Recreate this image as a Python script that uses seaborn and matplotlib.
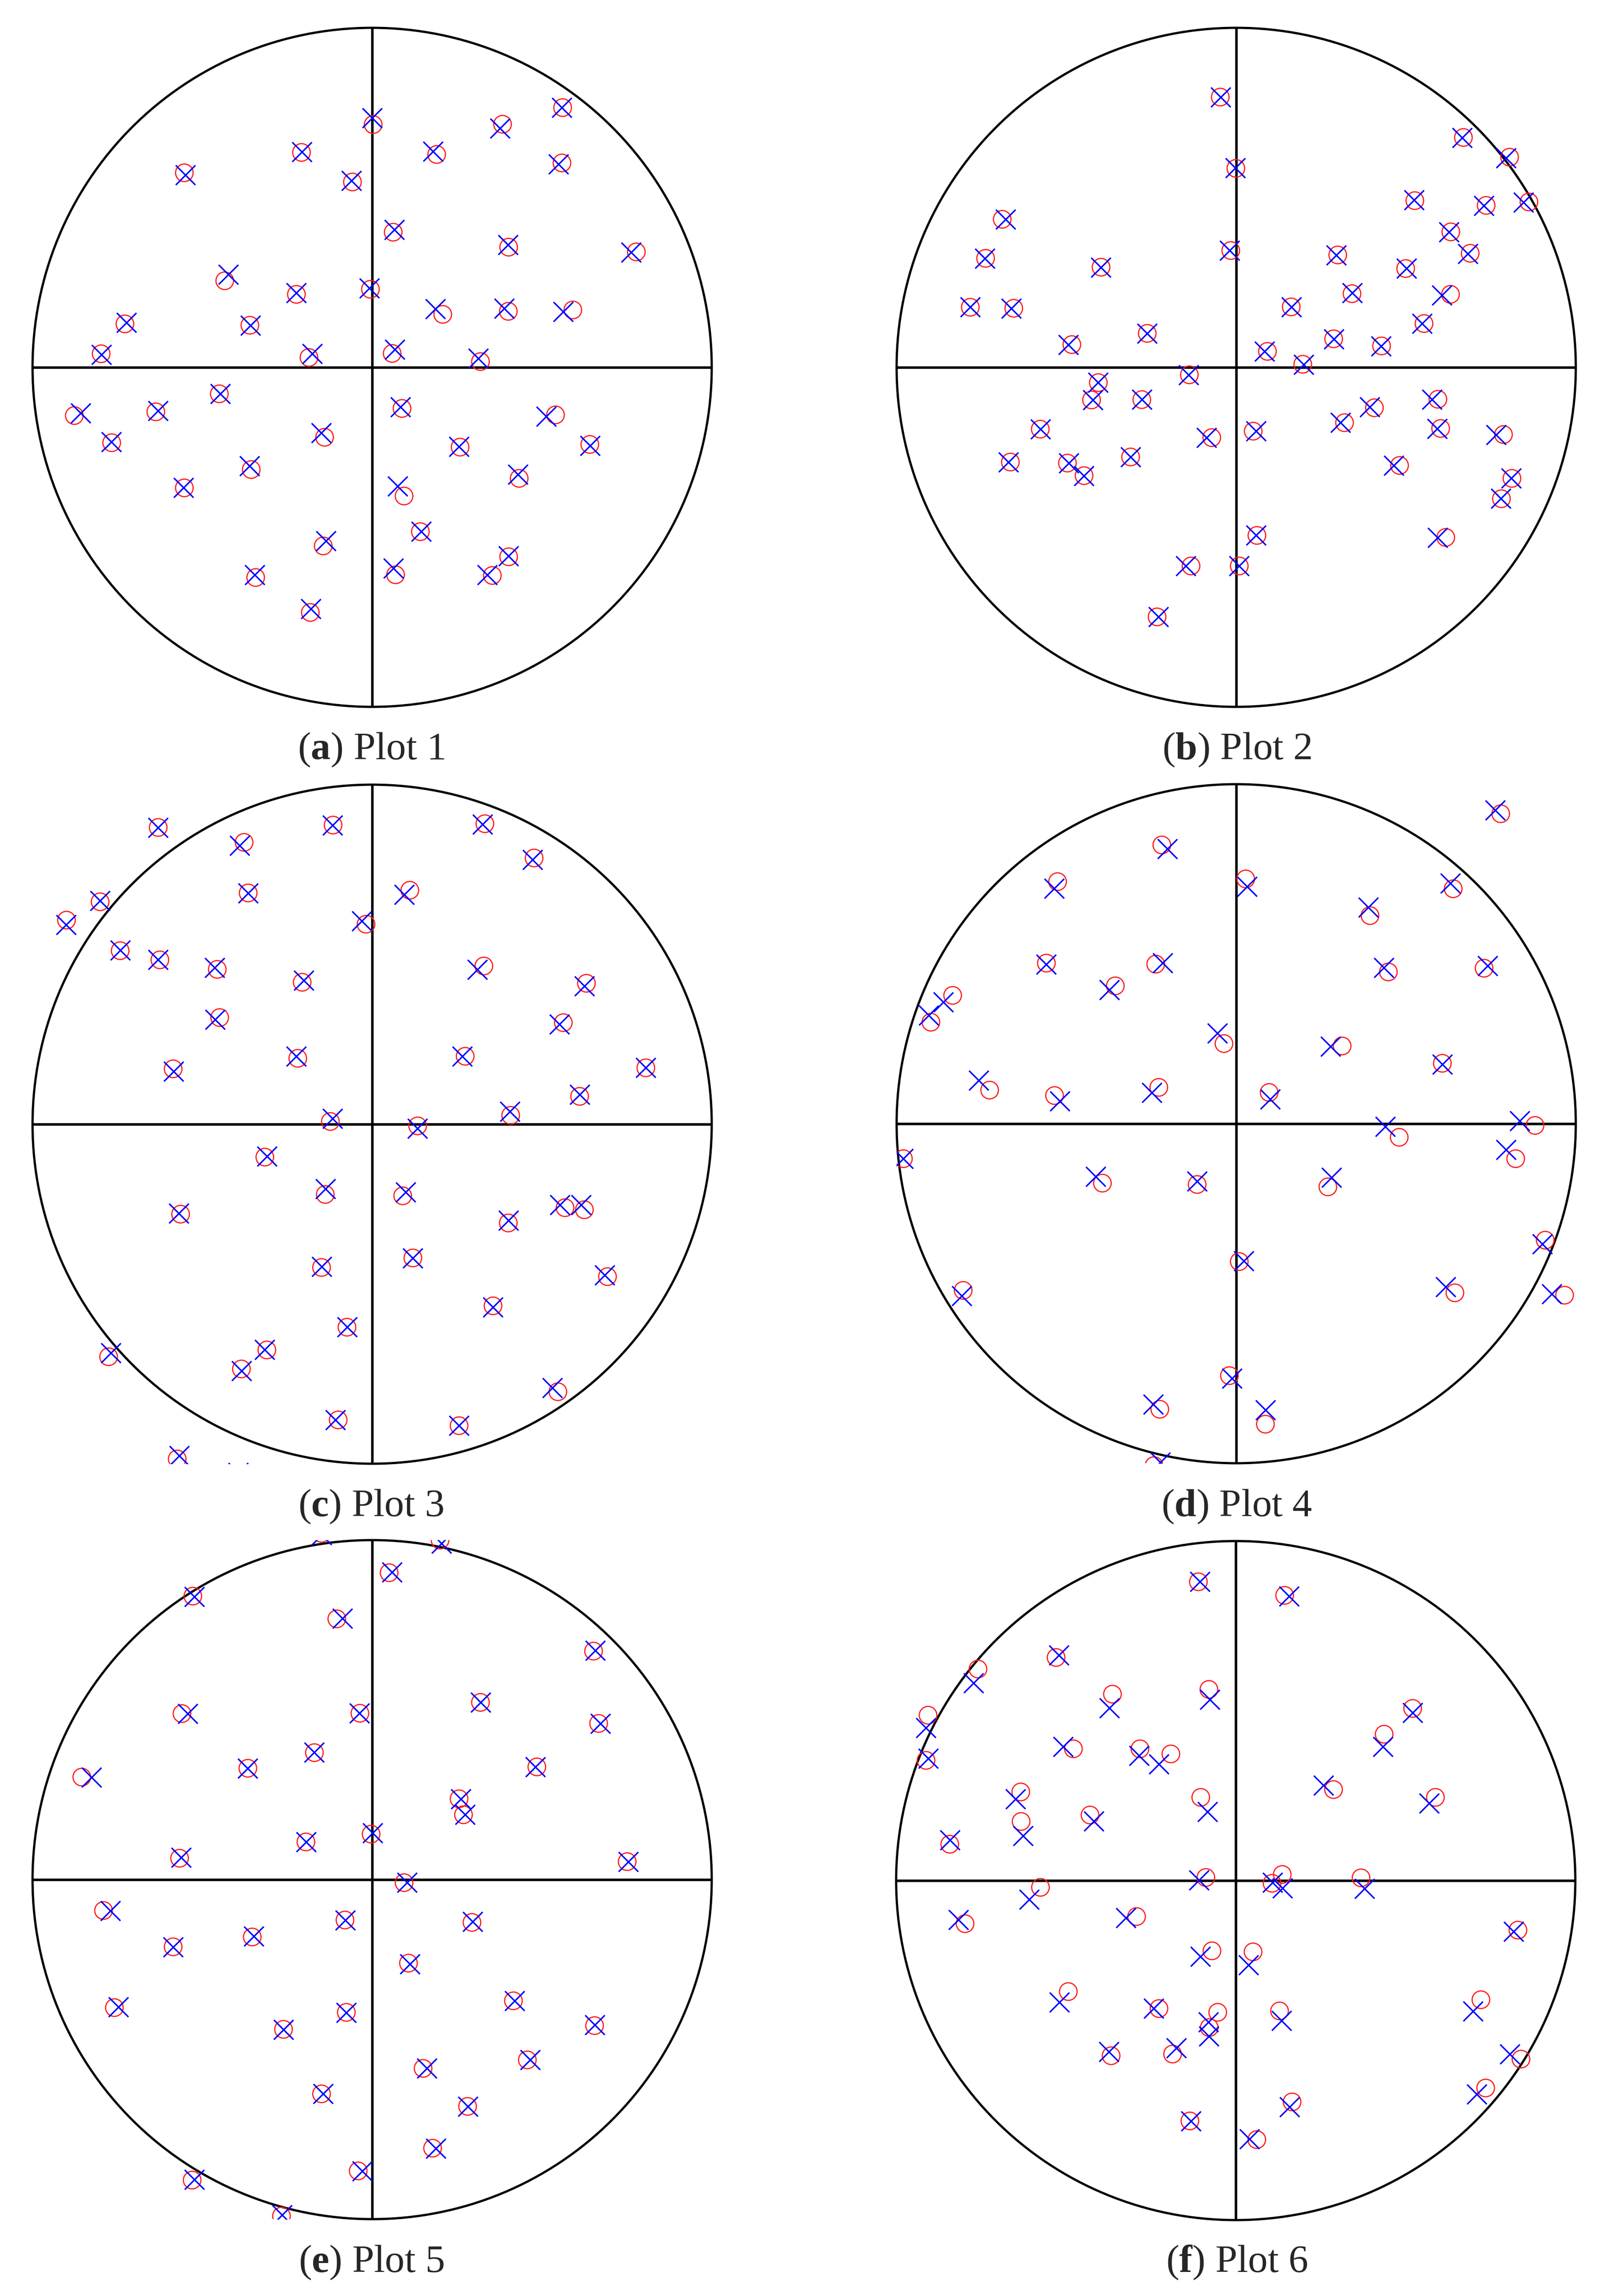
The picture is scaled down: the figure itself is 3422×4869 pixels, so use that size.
import numpy as np
import pandas as pd
import matplotlib
matplotlib.use("Agg")
import matplotlib.pyplot as plt
import seaborn as sns
from matplotlib.patches import Circle

# ---------------- data (unit-circle coordinates) ----------------
p1_circle_x = [0.003, 0.384, 0.561, -0.208, 0.190, 0.559, -0.553, -0.058, 0.062, 0.402, 0.778, -0.434, -0.223, -0.005, 0.208, 0.401, 0.591, -0.728, -0.360, -0.798, -0.186, 0.059, 0.319, -0.450, -0.877, -0.637, 0.088, 0.540, -0.767, -0.140, 0.259, 0.641, -0.356, 0.433, -0.553, 0.094, 0.142, -0.144, 0.402, -0.343, 0.069, 0.354, -0.182]
p1_circle_y = [0.715, 0.716, 0.765, 0.633, 0.627, 0.602, 0.573, 0.546, 0.398, 0.354, 0.340, 0.255, 0.215, 0.230, 0.156, 0.165, 0.169, 0.128, 0.124, 0.040, 0.029, 0.041, 0.017, -0.078, -0.142, -0.131, -0.121, -0.140, -0.222, -0.206, -0.235, -0.227, -0.301, -0.327, -0.355, -0.379, -0.484, -0.526, -0.558, -0.619, -0.611, -0.613, -0.722]
p1_cross_x = [0.000, 0.376, 0.559, -0.207, 0.179, 0.549, -0.550, -0.061, 0.065, 0.400, 0.763, -0.423, -0.223, -0.009, 0.186, 0.389, 0.563, -0.723, -0.358, -0.797, -0.177, 0.067, 0.313, -0.447, -0.858, -0.631, 0.084, 0.513, -0.768, -0.150, 0.256, 0.642, -0.361, 0.429, -0.555, 0.075, 0.144, -0.136, 0.402, -0.346, 0.062, 0.339, -0.181]
p1_cross_y = [0.735, 0.704, 0.765, 0.635, 0.636, 0.598, 0.567, 0.550, 0.406, 0.361, 0.339, 0.273, 0.219, 0.234, 0.172, 0.173, 0.164, 0.132, 0.124, 0.037, 0.040, 0.053, 0.026, -0.078, -0.135, -0.128, -0.117, -0.145, -0.220, -0.193, -0.234, -0.231, -0.290, -0.315, -0.354, -0.350, -0.484, -0.511, -0.555, -0.611, -0.591, -0.611, -0.711]

p2_circle_x = [-0.047, 0.669, 0.805, -0.001, 0.526, 0.736, 0.862, -0.689, 0.632, -0.738, -0.016, 0.299, 0.689, -0.398, 0.499, 0.341, 0.631, -0.783, -0.655, 0.162, -0.262, 0.553, -0.484, 0.287, 0.428, 0.092, 0.196, -0.138, -0.406, -0.426, -0.278, 0.407, 0.594, -0.577, 0.319, 0.602, 0.050, -0.072, 0.787, -0.665, -0.497, -0.311, -0.448, 0.481, 0.812, 0.781, 0.061, 0.617, -0.133, 0.009, -0.233]
p2_circle_y = [0.796, 0.677, 0.619, 0.586, 0.491, 0.477, 0.487, 0.436, 0.399, 0.321, 0.344, 0.331, 0.336, 0.295, 0.291, 0.217, 0.215, 0.177, 0.174, 0.178, 0.100, 0.129, 0.067, 0.084, 0.063, 0.047, 0.009, -0.022, -0.045, -0.096, -0.095, -0.119, -0.094, -0.182, -0.163, -0.180, -0.188, -0.207, -0.198, -0.279, -0.282, -0.264, -0.319, -0.289, -0.327, -0.387, -0.495, -0.501, -0.585, -0.585, -0.735]
p2_cross_x = [-0.046, 0.665, 0.794, -0.003, 0.524, 0.729, 0.846, -0.679, 0.627, -0.740, -0.020, 0.295, 0.682, -0.399, 0.501, 0.341, 0.605, -0.783, -0.663, 0.162, -0.262, 0.547, -0.494, 0.287, 0.427, 0.084, 0.198, -0.140, -0.407, -0.422, -0.278, 0.393, 0.576, -0.577, 0.307, 0.592, 0.058, -0.087, 0.765, -0.671, -0.493, -0.311, -0.449, 0.464, 0.810, 0.779, 0.058, 0.593, -0.148, 0.008, -0.229]
p2_cross_y = [0.796, 0.677, 0.617, 0.588, 0.493, 0.476, 0.486, 0.436, 0.399, 0.321, 0.344, 0.331, 0.335, 0.295, 0.291, 0.219, 0.213, 0.178, 0.174, 0.178, 0.100, 0.129, 0.067, 0.084, 0.063, 0.047, 0.009, -0.022, -0.045, -0.096, -0.094, -0.117, -0.094, -0.182, -0.163, -0.180, -0.188, -0.207, -0.198, -0.279, -0.282, -0.264, -0.319, -0.289, -0.327, -0.386, -0.495, -0.501, -0.585, -0.585, -0.735]

p3_circle_x = [-0.630, -0.115, 0.332, -0.377, 0.477, -0.801, -0.365, 0.111, -0.900, -0.018, -0.742, -0.625, -0.456, 0.329, -0.206, 0.631, -0.449, 0.563, -0.219, 0.274, -0.586, 0.806, 0.611, -0.123, 0.408, 0.134, -0.316, -0.138, 0.090, -0.564, 0.568, 0.625, 0.401, 0.120, -0.149, 0.693, 0.356, -0.074, -0.776, -0.310, -0.385, 0.547, -0.100, 0.256, -0.574, -0.394]
p3_circle_y = [0.874, 0.881, 0.885, 0.830, 0.784, 0.655, 0.681, 0.689, 0.601, 0.589, 0.511, 0.484, 0.456, 0.466, 0.418, 0.415, 0.314, 0.299, 0.194, 0.200, 0.163, 0.166, 0.082, 0.008, 0.026, -0.005, -0.097, -0.207, -0.211, -0.265, -0.246, -0.252, -0.291, -0.394, -0.422, -0.449, -0.535, -0.598, -0.685, -0.665, -0.721, -0.788, -0.871, -0.888, -0.986, -1.045]
p3_cross_x = [-0.631, -0.116, 0.325, -0.390, 0.472, -0.801, -0.365, 0.094, -0.902, -0.030, -0.742, -0.630, -0.464, 0.310, -0.202, 0.625, -0.462, 0.551, -0.223, 0.265, -0.585, 0.806, 0.611, -0.117, 0.406, 0.133, -0.310, -0.137, 0.099, -0.569, 0.553, 0.615, 0.402, 0.120, -0.149, 0.685, 0.356, -0.074, -0.769, -0.316, -0.385, 0.530, -0.109, 0.256, -0.568, -0.394]
p3_cross_y = [0.874, 0.881, 0.884, 0.821, 0.779, 0.659, 0.680, 0.676, 0.588, 0.598, 0.513, 0.485, 0.461, 0.456, 0.423, 0.407, 0.308, 0.295, 0.200, 0.200, 0.155, 0.166, 0.088, 0.016, 0.037, -0.012, -0.094, -0.190, -0.200, -0.262, -0.238, -0.238, -0.283, -0.394, -0.420, -0.444, -0.539, -0.597, -0.673, -0.664, -0.726, -0.777, -0.871, -0.888, -0.976, -1.026]

p4_circle_x = [0.779, -0.219, 0.028, -0.526, 0.639, 0.394, -0.559, -0.237, 0.448, 0.730, -0.356, -0.835, -0.899, -0.036, 0.312, 0.607, -0.726, -0.535, -0.228, 0.097, 0.480, 0.880, 0.823, -0.980, -0.394, -0.115, 0.270, 0.910, 0.009, -0.804, 0.644, 0.967, -0.020, -0.225, 0.086, -0.242]
p4_circle_y = [0.913, 0.821, 0.721, 0.713, 0.692, 0.613, 0.473, 0.470, 0.447, 0.458, 0.406, 0.378, 0.299, 0.236, 0.229, 0.178, 0.099, 0.083, 0.107, 0.092, -0.040, -0.005, -0.103, -0.103, -0.175, -0.179, -0.186, -0.343, -0.406, -0.491, -0.498, -0.505, -0.742, -0.841, -0.885, -1.007]
p4_cross_x = [0.763, -0.203, 0.032, -0.536, 0.630, 0.389, -0.560, -0.216, 0.435, 0.740, -0.374, -0.863, -0.906, -0.055, 0.278, 0.607, -0.758, -0.520, -0.249, 0.100, 0.439, 0.835, 0.794, -0.980, -0.414, -0.115, 0.281, 0.902, 0.022, -0.808, 0.617, 0.929, -0.013, -0.245, 0.086, -0.223]
p4_cross_y = [0.924, 0.810, 0.698, 0.693, 0.709, 0.638, 0.469, 0.473, 0.460, 0.465, 0.395, 0.358, 0.320, 0.267, 0.228, 0.175, 0.128, 0.067, 0.091, 0.072, -0.009, 0.008, -0.076, -0.103, -0.155, -0.170, -0.159, -0.354, -0.404, -0.507, -0.481, -0.501, -0.750, -0.826, -0.843, -0.997]

p5_circle_x = [-0.149, 0.200, 0.050, -0.528, -0.104, 0.652, 0.319, -0.560, -0.036, 0.667, -0.170, -0.366, -0.855, 0.485, 0.256, 0.269, -0.003, -0.195, -0.567, 0.751, 0.094, -0.791, -0.080, 0.294, -0.586, -0.353, 0.107, -0.759, 0.416, -0.076, 0.655, -0.261, 0.457, 0.150, -0.149, 0.281, 0.178, -0.041, -0.530, -0.267]
p5_circle_y = [1.020, 1.000, 0.904, 0.835, 0.768, 0.673, 0.522, 0.489, 0.490, 0.460, 0.374, 0.328, 0.302, 0.332, 0.238, 0.191, 0.134, 0.111, 0.063, 0.053, -0.009, -0.091, -0.119, -0.126, -0.198, -0.169, -0.246, -0.377, -0.357, -0.391, -0.430, -0.441, -0.531, -0.556, -0.631, -0.668, -0.791, -0.858, -0.885, -0.991]
p5_cross_x = [-0.149, 0.204, 0.058, -0.524, -0.087, 0.657, 0.319, -0.543, -0.038, 0.672, -0.171, -0.366, -0.827, 0.480, 0.261, 0.273, 0.001, -0.195, -0.563, 0.754, 0.103, -0.771, -0.079, 0.296, -0.586, -0.348, 0.111, -0.747, 0.419, -0.076, 0.656, -0.261, 0.465, 0.161, -0.144, 0.282, 0.187, -0.029, -0.523, -0.265]
p5_cross_y = [1.015, 0.990, 0.906, 0.834, 0.769, 0.675, 0.522, 0.489, 0.490, 0.460, 0.375, 0.328, 0.302, 0.332, 0.237, 0.191, 0.137, 0.111, 0.065, 0.053, -0.009, -0.091, -0.119, -0.124, -0.198, -0.167, -0.248, -0.375, -0.357, -0.391, -0.428, -0.441, -0.531, -0.555, -0.630, -0.668, -0.792, -0.858, -0.884, -0.988]

p6_circle_x = [-0.110, 0.144, -0.529, -0.759, -0.363, -0.079, 0.521, -0.906, 0.437, -0.478, -0.282, -0.191, -0.912, 0.288, 0.588, -0.633, -0.103, -0.429, -0.632, -0.842, -0.088, 0.137, 0.107, 0.369, -0.575, -0.797, -0.292, 0.831, -0.070, 0.051, -0.493, 0.722, -0.226, -0.053, -0.078, 0.129, -0.367, -0.186, 0.840, 0.736, 0.166, -0.135, 0.062]
p6_circle_y = [0.880, 0.840, 0.657, 0.623, 0.549, 0.563, 0.507, 0.487, 0.431, 0.388, 0.388, 0.373, 0.354, 0.268, 0.245, 0.261, 0.245, 0.193, 0.174, 0.107, 0.009, 0.018, -0.008, 0.008, -0.020, -0.127, -0.106, -0.146, -0.207, -0.210, -0.327, -0.351, -0.377, -0.388, -0.433, -0.384, -0.516, -0.511, -0.526, -0.611, -0.652, -0.708, -0.763]
p6_cross_x = [-0.106, 0.157, -0.521, -0.772, -0.372, -0.077, 0.521, -0.912, 0.433, -0.509, -0.285, -0.226, -0.905, 0.259, 0.569, -0.648, -0.083, -0.418, -0.627, -0.842, -0.108, 0.108, 0.137, 0.379, -0.609, -0.817, -0.323, 0.818, -0.104, 0.038, -0.520, 0.699, -0.241, -0.080, -0.079, 0.135, -0.373, -0.175, 0.807, 0.710, 0.158, -0.132, 0.040]
p6_cross_y = [0.881, 0.838, 0.664, 0.582, 0.508, 0.534, 0.495, 0.450, 0.394, 0.394, 0.368, 0.343, 0.360, 0.280, 0.228, 0.240, 0.203, 0.175, 0.132, 0.119, 0.001, -0.005, -0.022, -0.024, -0.055, -0.115, -0.110, -0.150, -0.223, -0.248, -0.359, -0.385, -0.376, -0.416, -0.458, -0.413, -0.504, -0.493, -0.511, -0.629, -0.666, -0.708, -0.761]

panel_letters = ["a", "b", "c", "d", "e", "f"]
panel_titles = ["Plot 1", "Plot 2", "Plot 3", "Plot 4", "Plot 5", "Plot 6"]

# ---------------- style ----------------
sns.set_style("white")
plt.rcParams["font.family"] = ["Liberation Serif", "DejaVu Serif"]
plt.rcParams["mathtext.fontset"] = "custom"
plt.rcParams["mathtext.rm"] = "Liberation Serif"
plt.rcParams["mathtext.bf"] = "Liberation Serif:bold"

W, H, DPI = 3422, 4869, 300
fig = plt.figure(figsize=(W / DPI, H / DPI), dpi=DPI)
fig.patch.set_facecolor("white")

R = 720
centers = [(789, 779), (2621, 779), (789, 2384), (2621, 2383), (789, 3986), (2620, 3988)]
label_x = [787, 2622, 787, 2622, 787, 2622]
label_base = [1610, 1610, 3215, 3215, 4818, 4818]

panels = [
    (p1_circle_x, p1_circle_y, p1_cross_x, p1_cross_y),
    (p2_circle_x, p2_circle_y, p2_cross_x, p2_cross_y),
    (p3_circle_x, p3_circle_y, p3_cross_x, p3_cross_y),
    (p4_circle_x, p4_circle_y, p4_cross_x, p4_cross_y),
    (p5_circle_x, p5_circle_y, p5_cross_x, p5_cross_y),
    (p6_circle_x, p6_circle_y, p6_cross_x, p6_cross_y),
]

for i, (ox, oy, xx, xy) in enumerate(panels):
    pcx, pcy = centers[i]
    ax = fig.add_axes([(pcx - R) / W, 1 - (pcy + R) / H, 2 * R / W, 2 * R / H])
    ax.set_xlim(-1, 1)
    ax.set_ylim(-1, 1)
    ax.axis("off")
    ax.add_patch(Circle((0, 0), 1, fill=False, lw=1.15, edgecolor="black", clip_on=False, zorder=2))
    ax.axhline(0, color="black", lw=1.3, zorder=2)
    ax.axvline(0, color="black", lw=1.3, zorder=2)

    df_o = pd.DataFrame({"x": ox, "y": oy})
    df_x = pd.DataFrame({"x": xx, "y": xy})
    sns.scatterplot(data=df_o, x="x", y="y", ax=ax, marker="o", s=80, legend=False, zorder=3)
    coll = ax.collections[-1]
    coll.set_facecolor("none")
    coll.set_edgecolor("#ff1a1a")
    coll.set_linewidth(0.6)
    sns.scatterplot(data=df_x, x="x", y="y", ax=ax, marker="x", s=100, color="#0000ff",
                    linewidth=0.75, legend=False, zorder=4)

    fig.text(label_x[i] / W, 1 - label_base[i] / H,
             r"($\mathbf{%s}$) %s" % (panel_letters[i], panel_titles[i]),
             ha="center", va="baseline", fontsize=20)

fig.savefig("out.png", dpi=DPI, facecolor="white")
